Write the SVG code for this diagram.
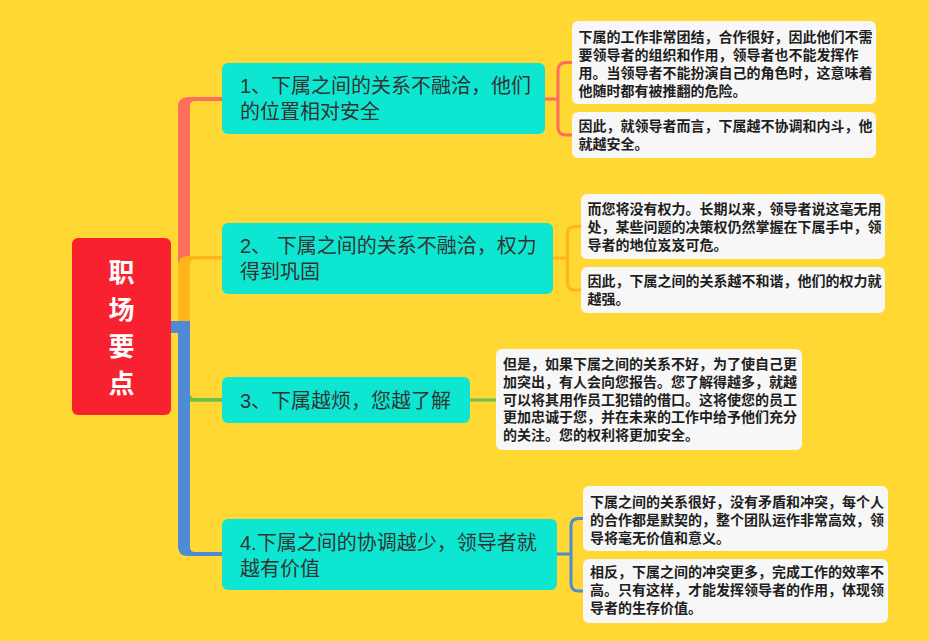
<svg xmlns="http://www.w3.org/2000/svg" width="929" height="641" viewBox="0 0 929 641">
<style>
.bg{fill:#FFD833}
.root{fill:#F8212F}
.topic{fill:#0DE7D1}
.sub{fill:#F7F7F7}
.rt{font-family:"Liberation Sans","Noto Sans CJK SC",sans-serif;font-size:26px;font-weight:bold;fill:#FFFFFF;text-anchor:middle}
.tt{font-family:"Liberation Sans","Noto Sans CJK SC",sans-serif;font-size:20px;fill:#333333}
.st{font-family:"Liberation Sans","Noto Sans CJK SC",sans-serif;font-size:14px;font-weight:bold;fill:#1E1E1E}
.br{fill:none;stroke-width:3;stroke-linecap:butt}
.red{fill:#FF6D5C}.redS{stroke:#FF6D5C}
.org{fill:#FFB41A}.orgS{stroke:#FFB41A}
.grn{fill:#6BC14F}.grnS{stroke:#6BC14F}
.blu{fill:#4F8BD4}.bluS{stroke:#4F8BD4}
</style>
<rect class="bg" x="0" y="0" width="929" height="641"/>
<g id="connectors">
<path class="red" d="M178,333 V107 Q178,97 188,97 H222 V101 H195 Q190,101 190,106 V333 Z"/>
<path class="org" d="M178,333 V266 Q178,256 188,256 H222 V259.5 H195 Q190,259.5 190,264.5 V333 Z"/>
<path class="grn" d="M180,333 V390 Q180,401.7 192,401.7 H222 V398 H195 Q190,398 190,393 V333 Z"/>
<path class="blu" d="M171,321 H190 V547 Q190,552 195,552 H222 V556 H188 Q178,556 178,546 V333 H171 Z"/>
<path class="br redS" d="M545,99 H558"/>
<path class="br redS" d="M572,62.5 H566 Q558,62.5 558,70.5 V127 Q558,135 566,135 H572"/>
<path class="br orgS" d="M553,258 H567.5"/>
<path class="br orgS" d="M581,226.5 H575 Q567.5,226.5 567.5,234 V282.5 Q567.5,290 575,290 H581"/>
<path class="br grnS" d="M470,400 H497"/>
<path class="br bluS" d="M557,554 H571"/>
<path class="br bluS" d="M583,518.5 H578.5 Q571,518.5 571,526 V583.5 Q571,591 578.5,591 H583"/>
</g>
<g id="root">
<rect class="root" x="72" y="238" width="99" height="177" rx="6"/>
<text class="rt"><tspan x="121.5" y="282">职</tspan><tspan x="121.5" y="319">场</tspan><tspan x="121.5" y="356">要</tspan><tspan x="121.5" y="393">点</tspan></text>
</g>
<g id="topic1">
<rect class="topic" x="222" y="63" width="323" height="71" rx="6"/>
<text class="tt"><tspan x="240" y="92.5">1、下属之间的关系不融洽，他们</tspan><tspan x="240" y="118.5">的位置相对安全</tspan></text>
</g>
<g id="topic2">
<rect class="topic" x="222" y="223" width="331" height="71" rx="6"/>
<text class="tt" xml:space="preserve"><tspan x="240" y="252.5">2、 下属之间的关系不融洽，权力</tspan><tspan x="240" y="278.5">得到巩固</tspan></text>
</g>
<g id="topic3">
<rect class="topic" x="222" y="377" width="248" height="46" rx="6"/>
<text class="tt" x="240" y="407.6">3、下属越烦，您越了解</text>
</g>
<g id="topic4">
<rect class="topic" x="222" y="519" width="335" height="71" rx="6"/>
<text class="tt"><tspan x="240" y="549.5">4.下属之间的协调越少，领导者就</tspan><tspan x="240" y="575.5">越有价值</tspan></text>
</g>
<g id="sub1a">
<rect class="sub" x="572" y="21" width="304" height="83" rx="6"/>
<text class="st"><tspan x="578.5" y="41.5">下属的工作非常团结，合作很好，因此他们不需</tspan><tspan x="578.5" y="59.5">要领导者的组织和作用，领导者也不能发挥作</tspan><tspan x="578.5" y="77.5">用。当领导者不能扮演自己的角色时，这意味着</tspan><tspan x="578.5" y="95.5">他随时都有被推翻的危险。</tspan></text>
</g>
<g id="sub1b">
<rect class="sub" x="572" y="112" width="304" height="46" rx="6"/>
<text class="st"><tspan x="578.5" y="130.5">因此，就领导者而言，下属越不协调和内斗，他</tspan><tspan x="578.5" y="148.5">就越安全。</tspan></text>
</g>
<g id="sub2a">
<rect class="sub" x="581" y="194" width="304" height="65" rx="6"/>
<text class="st"><tspan x="587.5" y="214">而您将没有权力。长期以来，领导者说这毫无用</tspan><tspan x="587.5" y="232">处，某些问题的决策权仍然掌握在下属手中，领</tspan><tspan x="587.5" y="250">导者的地位岌岌可危。</tspan></text>
</g>
<g id="sub2b">
<rect class="sub" x="581" y="267" width="304" height="46" rx="6"/>
<text class="st"><tspan x="587.5" y="285.5">因此，下属之间的关系越不和谐，他们的权力就</tspan><tspan x="587.5" y="303.5">越强。</tspan></text>
</g>
<g id="sub3">
<rect class="sub" x="496" y="349" width="306" height="101" rx="6"/>
<text class="st"><tspan x="503" y="369">但是，如果下属之间的关系不好，为了使自己更</tspan><tspan x="503" y="386.8">加突出，有人会向您报告。您了解得越多，就越</tspan><tspan x="503" y="404.6">可以将其用作员工犯错的借口。这将使您的员工</tspan><tspan x="503" y="422.4">更加忠诚于您，并在未来的工作中给予他们充分</tspan><tspan x="503" y="440.2">的关注。您的权利将更加安全。</tspan></text>
</g>
<g id="sub4a">
<rect class="sub" x="583" y="486" width="305" height="65" rx="6"/>
<text class="st"><tspan x="590" y="506.5">下属之间的关系很好，没有矛盾和冲突，每个人</tspan><tspan x="590" y="524.5">的合作都是默契的，整个团队运作非常高效，领</tspan><tspan x="590" y="542.5">导将毫无价值和意义。</tspan></text>
</g>
<g id="sub4b">
<rect class="sub" x="583" y="559" width="305" height="64" rx="6"/>
<text class="st"><tspan x="590" y="577">相反，下属之间的冲突更多，完成工作的效率不</tspan><tspan x="590" y="595">高。只有这样，才能发挥领导者的作用，体现领</tspan><tspan x="590" y="613">导者的生存价值。</tspan></text>
</g>
</svg>
